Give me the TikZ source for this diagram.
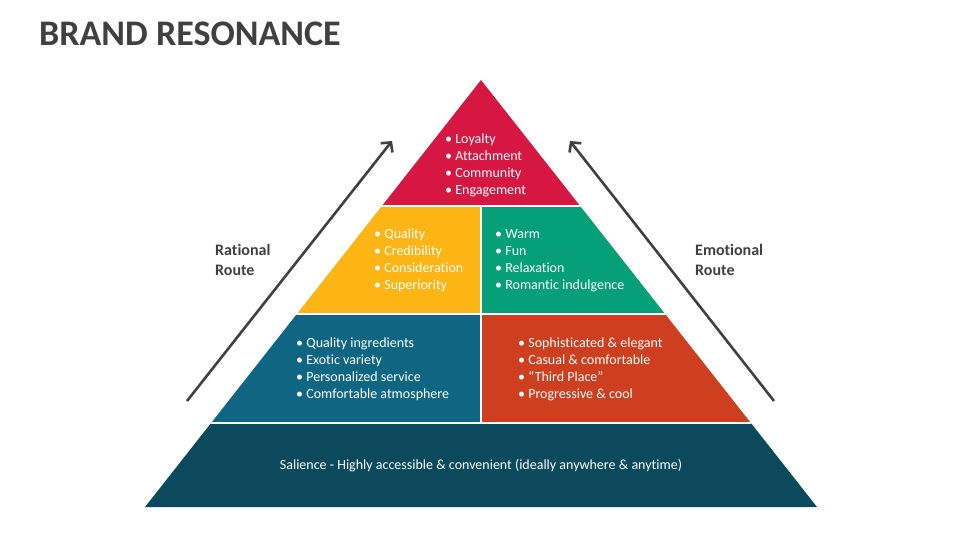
\documentclass[tikz,border=0pt]{standalone}
\usepackage{fontspec}
\setmainfont[Ligatures=NoCommon]{Carlito}
\usetikzlibrary{calc,arrows.meta}

\definecolor{loyalred}{HTML}{D51742}
\definecolor{judgeyellow}{HTML}{FDB515}
\definecolor{feelgreen}{HTML}{05A078}
\definecolor{perfblue}{HTML}{0F6682}
\definecolor{imageorange}{HTML}{CD3F1E}
\definecolor{saliteal}{HTML}{0B4A5D}
\definecolor{routegray}{HTML}{404040}

\begin{document}
\begin{tikzpicture}[
    x=1pt,
    y=-1pt,
    route/.style={
        draw=routegray,
        line width=2.6pt,
        -{Straight Barb[length=7pt,width=15pt]}
    },
    bullets/.style={
        text=white,
        align=left,
        anchor=west,
        inner sep=0pt,
        font=\fontsize{14}{17}\selectfont
    },
    routelabel/.style={
        text=routegray,
        align=left,
        anchor=west,
        inner sep=0pt,
        font=\fontsize{16}{19.5}\selectfont\bfseries
    },
    gap/.style={
        draw=white,
        line width=1.6pt
    }
]

\useasboundingbox (0,0) rectangle (960,540);

%%%%%%%%%%%%%%%%%%%%%%%%%%%%%%%%%%%%%%%%%%%%%%%%%%%%
%% Title
%%%%%%%%%%%%%%%%%%%%%%%%%%%%%%%%%%%%%%%%%%%%%%%%%%%%

\node[
    anchor=west,
    inner sep=0pt,
    text=routegray,
    font=\fontsize{36}{40}\selectfont\bfseries
] (title) at (39,34) {BRAND RESONANCE};

%%%%%%%%%%%%%%%%%%%%%%%%%%%%%%%%%%%%%%%%%%%%%%%%%%%%
%% Pyramid corners
%%%%%%%%%%%%%%%%%%%%%%%%%%%%%%%%%%%%%%%%%%%%%%%%%%%%

\coordinate (apex) at (481,80);
\coordinate (baseleft) at (145,507);
\coordinate (baseright) at (817,507);

%%%%%%%%%%%%%%%%%%%%%%%%%%%%%%%%%%%%%%%%%%%%%%%%%%%%
%% Levels
%%%%%%%%%%%%%%%%%%%%%%%%%%%%%%%%%%%%%%%%%%%%%%%%%%%%

\begin{scope}
    \clip (apex) -- (baseleft) -- (baseright) -- cycle;
    \fill[loyalred] (140,75) rectangle (820,206);
    \fill[judgeyellow] (140,206) rectangle (481,314);
    \fill[feelgreen] (481,206) rectangle (820,314);
    \fill[perfblue] (140,314) rectangle (481,423);
    \fill[imageorange] (481,314) rectangle (820,423);
    \fill[saliteal] (140,423) rectangle (820,510);

    \draw[gap] (140,206) -- (820,206);
    \draw[gap] (140,314) -- (820,314);
    \draw[gap] (140,423) -- (820,423);
    \draw[gap] (481,206) -- (481,423);
\end{scope}

%%%%%%%%%%%%%%%%%%%%%%%%%%%%%%%%%%%%%%%%%%%%%%%%%%%%
%% Level texts
%%%%%%%%%%%%%%%%%%%%%%%%%%%%%%%%%%%%%%%%%%%%%%%%%%%%

\node[bullets] (resonance) at (445,165)
{• Loyalty\\• Attachment\\• Community\\• Engagement};

\node[bullets] (judgements) at (374,260.5)
{• Quality\\• Credibility\\• Consideration\\• Superiority};

\node[bullets] (feelings) at (495,260.5)
{• Warm\\• Fun\\• Relaxation\\• Romantic indulgence};

\node[bullets] (performance) at (296,369.5)
{• Quality ingredients\\• Exotic variety\\• Personalized service\\• Comfortable atmosphere};

\node[bullets] (imagery) at (518,369.5)
{• Sophisticated \& elegant\\• Casual \& comfortable\\• “Third Place”\\• Progressive \& cool};

\node[bullets,anchor=center] (salience) at (481,466)
{Salience - Highly accessible \& convenient (ideally anywhere \& anytime)};

%%%%%%%%%%%%%%%%%%%%%%%%%%%%%%%%%%%%%%%%%%%%%%%%%%%%
%% Routes
%%%%%%%%%%%%%%%%%%%%%%%%%%%%%%%%%%%%%%%%%%%%%%%%%%%%

\coordinate (ratstart) at (187,401);
\coordinate (ratend) at (392,141);
\coordinate (emostart) at (774,401);
\coordinate (emoend) at (570,141);

\draw[route] (ratstart) -- (ratend);
\draw[route] (emostart) -- (emoend);

\node[routelabel] (rational) at (215,260) {Rational\\Route};
\node[routelabel] (emotional) at (695,260) {Emotional\\Route};

\end{tikzpicture}
\end{document}
